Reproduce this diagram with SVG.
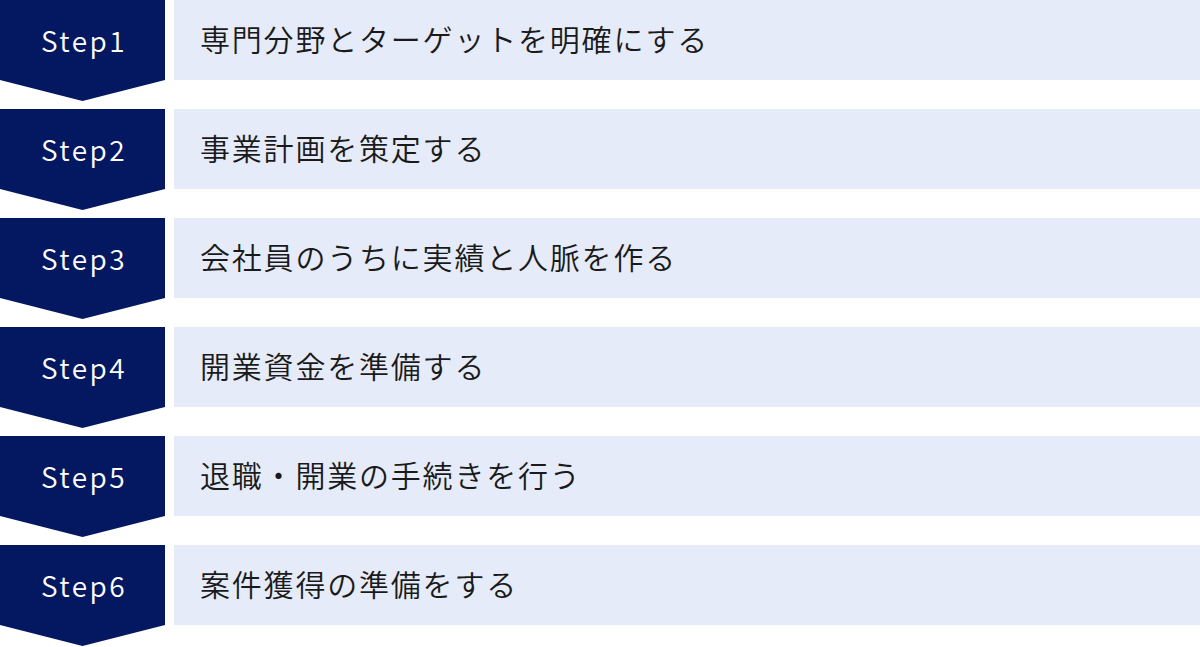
<svg xmlns="http://www.w3.org/2000/svg" width="1200" height="647" viewBox="0 0 1200 647">
<defs>
<style>
.bg{fill:#ffffff}
.chev{fill:#041862}
.bar{fill:#e5ebf8}
.st{font-family:"Noto Sans CJK JP","Noto Sans",sans-serif;font-size:28px;font-weight:350;letter-spacing:2.5px;fill:#ffffff;text-anchor:middle}
.lb{font-family:"Noto Sans CJK JP",sans-serif;font-size:30px;font-weight:350;letter-spacing:1.8px;fill:#1a1a1a}
</style>
<path id="chevron" d="M0,0 H165 V80 L82.5,101 L0,80 Z"/>
</defs>
<rect class="bg" x="0" y="0" width="1200" height="647"/>
<g id="connectors"></g>
<g id="step1" transform="translate(0,0)">
<use href="#chevron" class="chev"/>
<rect class="bar" x="174" y="0" width="1026" height="80"/>
<text class="st" x="84" y="52">Step1</text>
<text class="lb" x="200" y="51">専門分野とターゲットを明確にする</text>
</g>
<g id="step2" transform="translate(0,109)">
<use href="#chevron" class="chev"/>
<rect class="bar" x="174" y="0" width="1026" height="80"/>
<text class="st" x="84" y="52">Step2</text>
<text class="lb" x="200" y="51">事業計画を策定する</text>
</g>
<g id="step3" transform="translate(0,218)">
<use href="#chevron" class="chev"/>
<rect class="bar" x="174" y="0" width="1026" height="80"/>
<text class="st" x="84" y="52">Step3</text>
<text class="lb" x="200" y="51">会社員のうちに実績と人脈を作る</text>
</g>
<g id="step4" transform="translate(0,327)">
<use href="#chevron" class="chev"/>
<rect class="bar" x="174" y="0" width="1026" height="80"/>
<text class="st" x="84" y="52">Step4</text>
<text class="lb" x="200" y="51">開業資金を準備する</text>
</g>
<g id="step5" transform="translate(0,436)">
<use href="#chevron" class="chev"/>
<rect class="bar" x="174" y="0" width="1026" height="80"/>
<text class="st" x="84" y="52">Step5</text>
<text class="lb" x="200" y="51">退職・開業の手続きを行う</text>
</g>
<g id="step6" transform="translate(0,545)">
<use href="#chevron" class="chev"/>
<rect class="bar" x="174" y="0" width="1026" height="80"/>
<text class="st" x="84" y="52">Step6</text>
<text class="lb" x="200" y="51">案件獲得の準備をする</text>
</g>
</svg>
